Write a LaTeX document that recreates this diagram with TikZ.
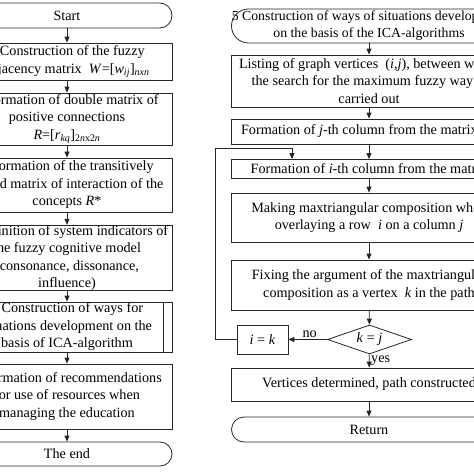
\documentclass[tikz,border=0pt]{standalone}
\usepackage{fontspec}
\setmainfont{Liberation Serif}
\usetikzlibrary{arrows.meta,shapes.geometric,calc}
\begin{document}
\begin{tikzpicture}[x=1pt,y=-1pt,
  box/.style={draw=black!85, line width=0.8pt, rectangle, inner sep=0pt, align=center,
    font=\fontsize{14.2}{17.5}\selectfont, text=black},
  lbox/.style={box, minimum width=210pt},
  rbox/.style={box, minimum width=275pt},
  arr/.style={-{Triangle[length=6pt,width=5pt]}, line width=0.8pt, draw=black!85},
  lab/.style={font=\fontsize{14.2}{17.5}\selectfont, inner sep=0pt}
]
\useasboundingbox (0,0) rectangle (474,474);
\clip (0,0) rectangle (474,474);

% left column
\node[lbox, minimum height=25pt, rounded corners=12.5pt] (start) at (67,15.5) {Start};
\node[lbox, minimum height=37pt] (b1) at (67,61.5) {1 Construction of the fuzzy\\adjacency matrix\ \ \textit{W}=[\textit{w}\textsubscript{\textit{ij}}]\textsubscript{\textit{nxn}}};
\node[lbox, minimum height=52pt] (b2) at (67,119) {2 Formation of double matrix of\\positive connections\\\textit{R}=[\textit{r}\textsubscript{\textit{kq}}]\textsubscript{2\textit{n}x2\textit{n}}};
\node[lbox, minimum height=54pt] (b3) at (67,185) {3 Formation of the transitively\\closed matrix of interaction of the\\concepts \textit{R}*};
\node[lbox, minimum height=64pt] (b4) at (67,258) {4 Definition of system indicators of\\the fuzzy cognitive model\\(consonance, dissonance,\\influence)};
\node[lbox, minimum height=50pt] (b5) at (67,327) {5 Construction of ways for\\situations development on the\\basis of ICA-algorithm};
\draw[draw=black!85, line width=0.8pt] ($(b5.north west)+(9,0)$) -- ($(b5.south west)+(9,0)$);
\draw[draw=black!85, line width=0.8pt] ($(b5.north east)+(-9,0)$) -- ($(b5.south east)+(-9,0)$);
\node[lbox, minimum height=65pt] (b6) at (67,396.5) {6 Formation of recommendations\\for use of resources when\\managing the education};
\node[lbox, minimum height=24pt, rounded corners=12pt] (end) at (67,454) {The end};

\draw[arr] (start) -- (b1);
\draw[arr] (b1) -- (b2);
\draw[arr] (b2) -- (b3);
\draw[arr] (b3) -- (b4);
\draw[arr] (b4) -- (b5);
\draw[arr] (b5) -- (b6);
\draw[arr] (b6) -- (end);

% right column
\node[rbox, minimum height=34pt, rounded corners=17pt, font=\fontsize{13.8}{17}\selectfont] (r0) at (369,26) {5 Construction of ways of situations development\\on the basis of the ICA-algorithms};
\node[rbox, minimum height=52pt] (r1) at (369,81) {Listing of graph vertices\ \ (\textit{i},\textit{j}), between which\\the search for the maximum fuzzy way is\\carried out};
\node[rbox, minimum height=25pt] (r2) at (369,131.5) {Formation of \textit{j}-th column from the matrix \textit{R}*};
\node[rbox, minimum height=18.5pt] (r3) at (369,168.75) {Formation of \textit{i}-th column from the matrix};
\node[rbox, minimum height=49pt] (r4) at (369,217.5) {Making maxtriangular composition when\\overlaying a row\ \ \textit{i} on a column \textit{j}};
\node[rbox, minimum height=50pt] (r5) at (369,285) {Fixing the argument of the maxtriangular\\composition as a vertex\ \ \textit{k} in the path};
\node[diamond, draw=black!85, line width=0.8pt, aspect=2.86, minimum width=84pt, minimum height=29pt, inner sep=0pt, font=\fontsize{14.2}{17.5}\selectfont] (dia) at (369.5,339.5) {\textit{k} = \textit{j}};
\node[box, minimum width=51pt, minimum height=29pt] (ik) at (262.5,339.5) {\textit{i} = \textit{k}};
\node[rbox, minimum height=33pt] (r6) at (369,384.5) {Vertices determined, path constructed};
\node[rbox, minimum height=25pt, rounded corners=12.5pt] (ret) at (369,429.5) {Return};

\draw[arr] (r0) -- (r1);
\draw[arr] (r1) -- (r2);
\draw[arr] (r2) -- (r3);
\draw[arr] (r3) -- (r4);
\draw[arr] (r4) -- (r5);
\draw[arr] (r5) -- (dia);
\draw[arr] (dia) -- node[lab, anchor=west, pos=0.5, xshift=1.5pt] (yes) {yes} (r6);
\draw[arr] (dia) -- node[lab, anchor=south, pos=0.45, yshift=1pt] (no) {no} (ik);
\draw[arr] (r6) -- (ret);

\coordinate (lpc) at (215,148);
\coordinate (lpx) at (292,148);
\draw[arr] (ik.west) -| (lpc) -- (lpx) -- (lpx |- r3.north);
\end{tikzpicture}
\end{document}
